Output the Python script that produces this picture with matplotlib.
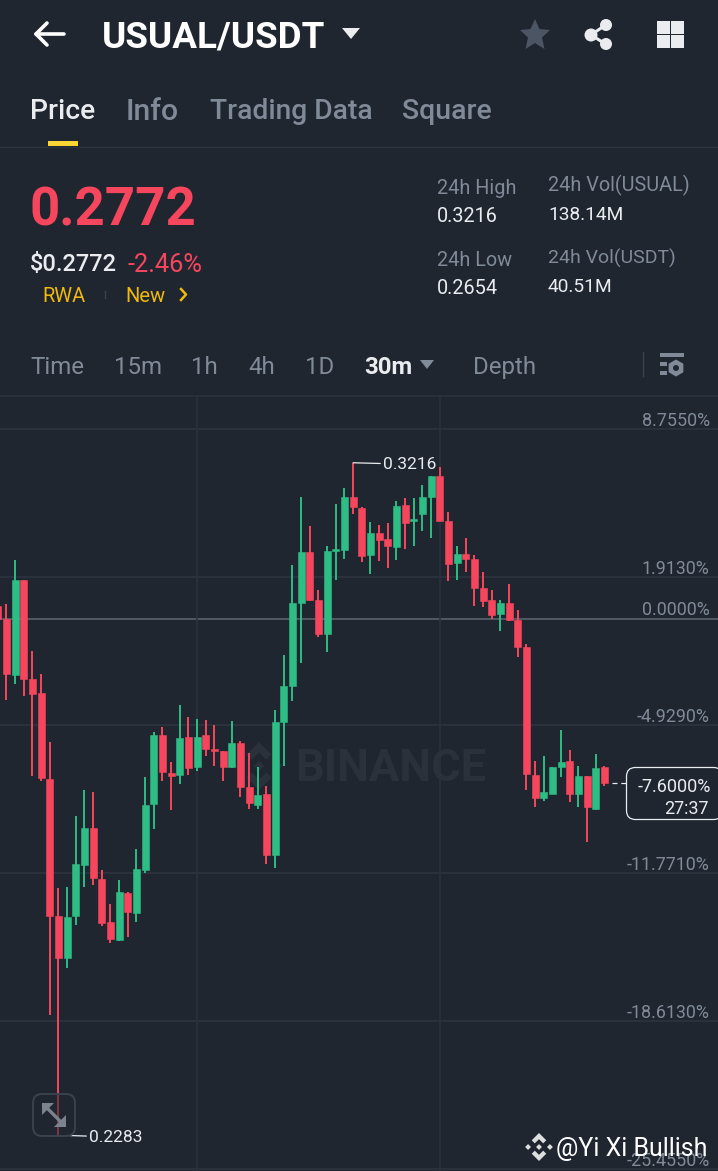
import matplotlib
matplotlib.use("Agg")
import matplotlib.pyplot as plt
from matplotlib.patches import FancyBboxPatch, Polygon, Rectangle, Circle, RegularPolygon

plt.rcParams['font.family'] = ['Roboto', 'DejaVu Sans']

BG = '#1f2630'
GRID = '#2b323d'
RED = '#f6465d'
GREEN = '#2ebd85'
GRAY = '#808a98'
WHITE = '#eaecef'
YELLOW = '#f0b90b'
WATERMARK = '#2a313b'

# 30m candles in ticks of 0.0001 USDT
opens = [3017, 2999, 2921, 3053, 2916, 2897, 2777, 2588, 2529, 2587,
         2658, 2710, 2639, 2579, 2554, 2620, 2592, 2651, 2743, 2838,
         2786, 2783, 2835, 2794, 2838, 2819, 2816, 2794, 2828, 2767,
         2742, 2756, 2672, 2857, 2907, 3021, 3092, 3026, 2978, 3094,
         3095, 3169, 3153, 3088, 3118, 3110, 3099, 3157, 3135, 3145,
         3169, 3197, 3135, 3077, 3089, 3082, 3042, 3026, 3006, 3021,
         2998, 2960, 2783, 2751, 2757, 2794, 2803, 2757, 2782, 2736,
         2794]
highs = [3017, 3020, 3081, 3053, 2955, 2923, 2829, 2626, 2628, 2726,
         2762, 2760, 2651, 2604, 2637, 2621, 2680, 2780, 2842, 2849,
         2801, 2880, 2864, 2860, 2859, 2853, 2816, 2858, 2830, 2813,
         2794, 2768, 2873, 2949, 3074, 3168, 3128, 3040, 3100, 3159,
         3181, 3216, 3155, 3134, 3130, 3132, 3163, 3167, 3167, 3185,
         3198, 3210, 3148, 3100, 3112, 3088, 3064, 3040, 3025, 3048,
         3012, 2964, 2803, 2809, 2794, 2845, 2818, 2796, 2782, 2812,
         2795]
lows = [2999, 2887, 2909, 2892, 2782, 2775, 2450, 2283, 2515, 2575,
        2627, 2631, 2574, 2550, 2553, 2558, 2579, 2647, 2708, 2774,
        2735, 2771, 2783, 2788, 2810, 2796, 2774, 2792, 2752, 2736,
        2736, 2659, 2654, 2796, 2886, 2938, 3024, 2975, 2953, 3054,
        3083, 3145, 3079, 3062, 3080, 3070, 3081, 3097, 3101, 3121,
        3112, 3135, 3052, 3053, 3064, 3018, 3016, 3000, 2983, 2996,
        2947, 2762, 2738, 2747, 2756, 2780, 2746, 2738, 2690, 2735,
        2768]
closes = [2999, 2923, 3053, 2916, 2896, 2779, 2588, 2529, 2586, 2659,
          2709, 2640, 2578, 2555, 2621, 2593, 2652, 2742, 2839, 2787,
          2782, 2834, 2793, 2836, 2819, 2816, 2794, 2827, 2767, 2744,
          2755, 2672, 2857, 2907, 3021, 3092, 3026, 2978, 3094, 3096,
          3169, 3154, 3087, 3119, 3109, 3101, 3156, 3132, 3138, 3169,
          3197, 3135, 3075, 3089, 3082, 3043, 3024, 3005, 3021, 2998,
          2960, 2784, 2751, 2759, 2794, 2801, 2757, 2782, 2738, 2793,
          2772]

base_tick = 3000
grid_pcts = [8.755, 1.913, -4.929, -11.771, -18.613, -25.455]
grid_labels = ['8.7550%', '1.9130%', '-4.9290%', '-11.7710%', '-18.6130%', '-25.4550%']
time_grid = [23, 51]


def pct(tick):
    return (tick - base_tick) / base_tick * 100


W, H = 718, 1171
fig = plt.figure(figsize=(W / 100, H / 100), dpi=100, facecolor=BG)

# Overlay for everything that is not price data, in pixel coordinates
ui = fig.add_axes([0, 0, 1, 1], zorder=3)
ui.patch.set_alpha(0)
ui.set_xlim(0, W)
ui.set_ylim(H, 0)
ui.axis('off')

# Chart area: y 396..1171 px, 0% at 618.5 px, 21.63 px per 1%
ax = fig.add_axes([0, 0, 1, (H - 396) / H], zorder=1)
ax.set_xlim(0.265, 83.11)
ax.set_ylim(-25.54, 10.286)
ax.axis('off')


def label(x, y, s, size, color=GRAY, weight='normal', ha='left'):
    ui.text(x, y + 1.5, s, fontsize=size, color=color, fontweight=weight, ha=ha, va='center')


def binance_logo(target, cx, cy, r, color, zorder=1.5):
    # two chevrons plus three small lozenges
    chevron = [(0, -1), (0.52, -0.48), (0.3, -0.26), (0, -0.56), (-0.3, -0.26), (-0.52, -0.48)]
    shapes = [chevron, [(x, -y) for x, y in chevron]]
    for dx in (-0.78, 0, 0.78):
        shapes.append([(dx, -0.21), (dx + 0.21, 0), (dx, 0.21), (dx - 0.21, 0)])
    for shape in shapes:
        target.add_patch(Polygon([(cx + x * r, cy + y * r) for x, y in shape], closed=True,
                                 color=color, lw=0, zorder=zorder, transform=ui.transData,
                                 clip_on=False))


for p in grid_pcts:
    ax.axhline(p, color=GRID, lw=1.4, zorder=1)
ax.axhline(0, color='#5f6672', lw=1.1, zorder=1)
for t in time_grid:
    ax.axvline(t, color=GRID, lw=1.1, zorder=1)

# Watermark sits under the candles
binance_logo(ax, 259, 766, 24, WATERMARK)
ax.text(34.3, -6.95, 'BINANCE', color=WATERMARK, fontsize=32.5, fontweight='bold',
        ha='left', va='center', zorder=1.5)

xs = list(range(len(opens)))
colors = [GREEN if c > o else RED for o, c in zip(opens, closes)]
ax.vlines(xs, [pct(v) for v in lows], [pct(v) for v in highs], colors=colors, lw=1.4, zorder=2)
ax.bar(xs, [pct(c) - pct(o) for o, c in zip(opens, closes)], bottom=[pct(o) for o in opens],
       width=0.8, color=colors, edgecolor=colors, linewidth=0.4, zorder=3)

# Tick labels on the right
for p, lab in zip(grid_pcts + [0], grid_labels + ['0.0000%']):
    ax.annotate(lab, xy=(1, p), xycoords=ax.get_yaxis_transform(), xytext=(-6, -0.4),
                textcoords='offset points', ha='right', va='bottom', color=GRAY, fontsize=12.9)

# High / low markers
ax.annotate('0.3216', xy=(41, pct(3216)), xytext=(21.6, 0), textcoords='offset points',
            color=WHITE, fontsize=12.5, va='center_baseline', ha='left',
            arrowprops=dict(arrowstyle='-', color=WHITE, lw=0.9, shrinkA=0, shrinkB=0))
ax.annotate('0.2283', xy=(8.3, pct(2283)), xytext=(14, 0), textcoords='offset points',
            color=WHITE, fontsize=12.5, va='center_baseline', ha='left',
            arrowprops=dict(arrowstyle='-', color=WHITE, lw=0.9, shrinkA=0, shrinkB=0))

# Last price dashed line
ax.plot([70.9, 72.5], [pct(closes[-1])] * 2, color=WHITE, lw=0.9, ls=(0, (4, 3)), zorder=2)

# Header
ui.plot([36, 64], [34, 34], color='white', lw=2.6, solid_capstyle='round')
ui.plot([47, 36, 47], [23, 34, 45], color='white', lw=2.6, solid_capstyle='round',
        solid_joinstyle='round')
label(102, 36, 'USUAL/USDT', 26.5, 'white', 'bold')
ui.add_patch(Polygon([(342, 28), (360, 28), (351, 39)], closed=True, color=WHITE, lw=0))
# star
ui.add_patch(Polygon([(535, 19), (539.5, 29), (550, 30), (542, 37.5), (544.5, 49),
                      (535, 43), (525.5, 49), (528, 37.5), (520, 30), (530.5, 29)],
                     closed=True, color='#4c5563', lw=0))
# share
ui.plot([604, 591, 604], [26, 35, 43], color=WHITE, lw=2.2)
for cx, cy, r in [(606, 25, 6), (591, 35, 6.5), (606, 44, 6)]:
    ui.add_patch(Circle((cx, cy), r, color=WHITE, lw=0))
# grid icon
for x0, y0 in [(657, 21), (671, 21), (657, 35), (671, 35)]:
    ui.add_patch(Rectangle((x0, y0), 12.5, 12.5, color=WHITE, lw=0))

# Tabs
label(30, 110, 'Price', 20.3, WHITE, 'medium')
label(126, 110, 'Info', 21.8, GRAY, 'medium')
label(210, 110, 'Trading Data', 20.3, GRAY, 'medium')
label(402, 110, 'Square', 20.5, GRAY, 'medium')
ui.add_patch(Rectangle((48, 140.5), 30, 5.5, color='#fcd535', lw=0))
ui.plot([0, W], [146.5, 146.5], color=GRID, lw=1)

# Price block
label(30, 210, '0.2772', 38, RED, 'bold')
label(30, 263, '$0.2772', 17, WHITE, 'medium')
label(127, 263, '-2.46%', 18.3, RED)
label(42, 295, 'RWA', 14.5, YELLOW)
ui.plot([105, 105], [291, 298], color='#3a424e', lw=1)
label(125, 295, 'New', 14.5, YELLOW)
ui.plot([181, 186, 181], [289, 294.5, 300], color=YELLOW, lw=1.8)

label(437, 187, '24h High', 14.3)
label(437, 215, '0.3216', 14.3, WHITE)
label(548, 184, '24h Vol(USUAL)', 14.3)
label(548, 213, '138.14M', 13.8, WHITE)
label(437, 259, '24h Low', 14.3)
label(437, 287, '0.2654', 14.3, WHITE)
label(548, 257, '24h Vol(USDT)', 14)
label(548, 285, '40.51M', 13.8, WHITE)

# Interval row
label(30, 366, 'Time', 17.3, GRAY)
label(114, 366, '15m', 17.3, GRAY)
label(191, 366, '1h', 17.3, GRAY)
label(248, 366, '4h', 17.3, GRAY)
label(305, 366, '1D', 17.3, GRAY)
label(364, 366, '30m', 17.3, WHITE, 'bold')
ui.add_patch(Polygon([(420, 360), (434, 360), (427, 369)], closed=True, color=GRAY, lw=0))
label(473, 366, 'Depth', 17.3, GRAY)
ui.plot([643, 643], [352, 376], color='#3a424e', lw=1)
ui.add_patch(Rectangle((660, 353), 24, 4, color=GRAY, lw=0))
ui.add_patch(Rectangle((660, 361.5), 7, 4, color=GRAY, lw=0))
ui.add_patch(Rectangle((660, 370.5), 7, 4, color=GRAY, lw=0))
ui.add_patch(RegularPolygon((676, 368), 6, radius=8.5, color=GRAY, lw=0))
ui.add_patch(Circle((676, 368), 3, color=BG, lw=0))
ui.plot([0, W], [395.5, 395.5], color=GRID, lw=1.2)

# Expand button
ui.add_patch(FancyBboxPatch((33, 1094), 42, 42, boxstyle='round,pad=0,rounding_size=9',
                            fc=(0.122, 0.149, 0.188, 0.55), ec='#3a424e', lw=1.4, zorder=5))
ui.add_patch(Polygon([(42, 1103), (54, 1103), (42, 1115)], closed=True, color='#7b838e', lw=0, zorder=6))
ui.add_patch(Polygon([(66, 1127), (54, 1127), (66, 1115)], closed=True, color='#7b838e', lw=0, zorder=6))
ui.plot([46, 62], [1107, 1123], color='#7b838e', lw=2.4, zorder=6)

# Last price tag
ui.add_patch(FancyBboxPatch((626.5, 767.5), 96, 52, boxstyle='round,pad=0,rounding_size=9',
                            fc=BG, ec=WHITE, lw=0.9, zorder=5))
ui.text(711, 787, '-7.6000%', fontsize=13, color=WHITE, ha='right', va='center', zorder=6)
ui.text(709, 809, '27:37', fontsize=13, color=WHITE, ha='right', va='center', zorder=6)

# Repost credit
binance_logo(ui, 539, 1147, 14, '#dcdee0', zorder=6)
ui.text(556, 1149, '@Yi Xi Bullish', fontsize=18, color='white', ha='left', va='center', zorder=6)

fig.savefig('out.png', dpi=100, facecolor=BG)
